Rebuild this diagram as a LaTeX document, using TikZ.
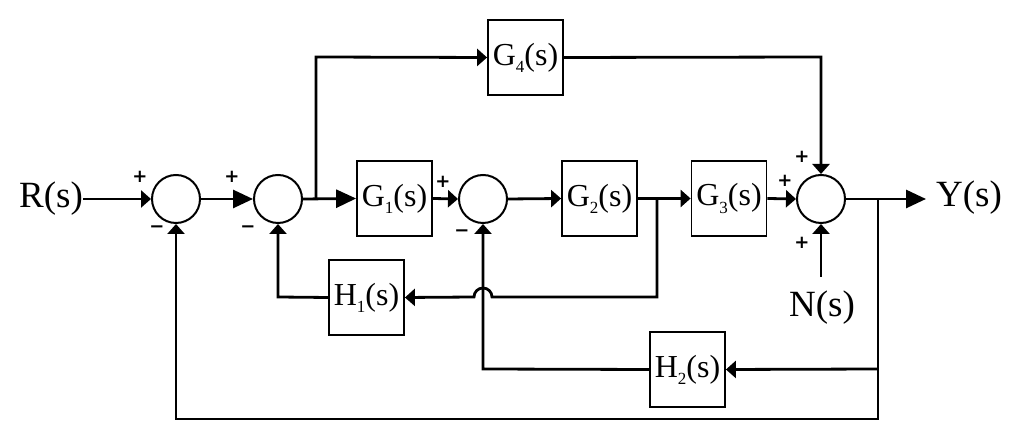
\documentclass[tikz,border=0pt]{standalone}
\usepackage{fontspec}
\setmainfont{Liberation Serif}
\newfontfamily\signfont{DejaVu Sans}
\usetikzlibrary{arrows.meta}
\newcommand{\blk}[2]{#1\raisebox{-0.22em}{\fontsize{17}{17}\selectfont #2}(s)}
\begin{document}
\begin{tikzpicture}[x=1pt,y=1pt,
  wire/.style={line width=2.8pt},
  sa/.style={-{Triangle[length=10pt,width=17pt]}},
  ba/.style={-{Triangle[length=20pt,width=18pt]}},
  sumnode/.style={circle,draw,line width=2pt,minimum size=48pt,inner sep=0pt},
  blocknode/.style={rectangle,draw,line width=1.8pt,minimum width=75pt,minimum height=75pt,inner sep=0pt,font=\fontsize{32}{32}\selectfont},
  lbl/.style={inner sep=0pt,font=\fontsize{37}{37}\selectfont},
  sgn/.style={inner sep=0pt,font=\signfont\bfseries\fontsize{18}{18}\selectfont}
]
\useasboundingbox (0,0) rectangle (1024,443);
% nodes
\node[lbl] (R) at (51,244) {R(s)};
\node[sumnode] (s1) at (176,244) {};
\node[sumnode] (s2) at (278,244) {};
\node[blocknode] (G1) at (394.5,244.5) {\blk{G}{1}};
\node[sumnode] (s3) at (483,244) {};
\node[blocknode] (G2) at (599.5,244.5) {\blk{G}{2}};
\node[blocknode] (G3) at (729,244.5) {\blk{G}{3}};
\node[sumnode] (s4) at (821,244) {};
\node[blocknode] (G4) at (525.5,385.5) {\blk{G}{4}};
\node[blocknode] (H1) at (366.5,145.5) {\blk{H}{1}};
\node[blocknode] (H2) at (687.5,73.5) {\blk{H}{2}};
\node[lbl] (Y) at (969,245) {Y(s)};
\node[lbl] (N) at (822,135) {N(s)};
% coordinates
\coordinate (b1) at (316,244);
\coordinate (b1t) at (316,386);
\coordinate (g4r) at (821,386);
\coordinate (yout) at (926,244);
\coordinate (b3) at (878,244);
\coordinate (b3h) at (878,74);
\coordinate (b3b) at (878,24);
\coordinate (s1b) at (176,24);
\coordinate (h2l) at (483,74);
\coordinate (b2) at (657,244);
\coordinate (b2b) at (657,146);
\coordinate (jr) at (492,146);
\coordinate (h1l) at (278,146);
\coordinate (nin) at (821,166);
% forward path
\draw[wire,sa] (R.east) -- (s1.west);
\draw[wire,ba] (s1.east) -- (s2.west);
\draw[wire,ba] (s2.east) -- (G1.west);
\draw[wire,sa] (G1.east) -- (s3.west);
\draw[wire,sa] (s3.east) -- (G2.west);
\draw[wire,sa] (G2.east) -- (G3.west);
\draw[wire,sa] (G3.east) -- (s4.west);
\draw[wire,ba] (s4.east) -- (yout);
% feedforward G4
\draw[wire,sa] (b1) -- (b1t) -- (G4.west);
\draw[wire,sa] (G4.east) -- (g4r) -- (s4.north);
% noise
\draw[wire,sa] (nin) -- (s4.south);
% outer feedback
\draw[wire,sa] (b3) -- (b3b) -- (s1b) -- (s1.south);
% H2 loop
\draw[wire,sa] (b3h) -- (H2.east);
\draw[wire,sa] (H2.west) -- (h2l) -- (s3.south);
% H1 loop with jump
\draw[wire,sa] (b2) -- (b2b) -- (jr) arc[start angle=0,end angle=180,radius=9pt] -- (H1.east);
\draw[wire,sa] (H1.west) -- (h1l) -- (s2.south);
% signs
\node[sgn] (p1) at (140,266) {+};
\node[sgn] (m1) at (157,214) {−};
\node[sgn] (p2) at (232,266) {+};
\node[sgn] (m2) at (248,214) {−};
\node[sgn] (p3) at (443,261) {+};
\node[sgn] (m3) at (462,210) {−};
\node[sgn] (p4t) at (802,286) {+};
\node[sgn] (p4l) at (785,262) {+};
\node[sgn] (p4b) at (802,200) {+};
\end{tikzpicture}
\end{document}
